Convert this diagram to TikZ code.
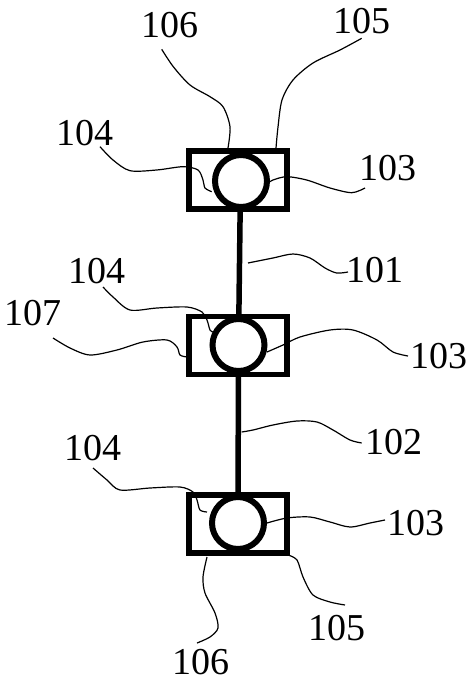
\documentclass[tikz,border=0pt]{standalone}
\usepackage{fontspec}
\setmainfont{Liberation Serif}
\begin{document}
\begin{tikzpicture}[x=1pt,y=-1pt,
  box/.style={draw,line width=5.5pt,minimum width=98pt,minimum height=58pt,inner sep=0pt},
  ring/.style={draw,circle,line width=6pt,minimum size=52pt,inner sep=0pt,fill=white},
  rod/.style={line width=5.5pt},
  leader/.style={line width=1.2pt},
  lbl/.style={inner sep=0pt,font=\fontsize{38}{42}\selectfont}]
\useasboundingbox (0,0) rectangle (474,685);
% boxes
\node[box] (b1) at (238,180) {};
\node[box] (b2) at (238,345.5) {};
\node[box] (b3) at (238,524) {};
% rods
\coordinate (t1) at (240.5,181);
\coordinate (t2) at (238.5,345);
\coordinate (t3) at (238,523);
\draw[rod] (t1) -- (t2) -- (t3);
% rings
\node[ring] (c1) at (241,181) {};
\node[ring] (c2) at (238.5,345) {};
\node[ring] (c3) at (238,523) {};
% labels
\node[lbl] (l106a) at (170,25) {106};
\node[lbl] (l105a) at (362,21) {105};
\node[lbl] (l104a) at (85,133) {104};
\node[lbl] (l103a) at (388,168) {103};
\node[lbl] (l101) at (375,270) {101};
\node[lbl] (l104b) at (97,271) {104};
\node[lbl] (l107) at (33,313) {107};
\node[lbl] (l103b) at (439,356) {103};
\node[lbl] (l102) at (394,442) {102};
\node[lbl] (l104c) at (93,448) {104};
\node[lbl] (l103c) at (416,523) {103};
\node[lbl] (l105b) at (337,628) {105};
\node[lbl] (l106b) at (201,662) {106};
% leaders top
\draw[leader] plot[smooth] coordinates {(161.7,49.3) (173.3,66.7) (190,85) (210,96.7) (223,106.7) (230,126.7) (228,148)};
\draw[leader] plot[smooth] coordinates {(361.7,38.3) (340,50) (313,63) (293,80) (282,100) (278,127) (276,148)};
\draw[leader] plot[smooth] coordinates {(100,146.7) (113,160) (130,170.7) (156.7,170) (183,166.7) (198,170) (203,180) (205,188) (211.7,191.7)};
\draw[leader] plot[smooth] coordinates {(365,188) (351.7,192.7) (330,188) (306.7,180) (286.7,176.7) (273,180) (268,183)};
% leaders middle
\draw[leader] plot[smooth] coordinates {(348,272) (336.7,273) (325,268) (310,258) (293,254) (273,258) (248,263)};
\draw[leader] plot[smooth] coordinates {(103,287) (113,297) (130,310) (157,308) (187,307) (202,312) (207,320) (210,330) (213,332)};
\draw[leader] plot[smooth] coordinates {(53,338) (70,348) (90,355) (117,350) (143,342) (167,340) (177,347) (180,355) (187,357)};
\draw[leader] plot[smooth] coordinates {(408,356) (393,352) (377,340) (353,330) (330,330) (300,337) (283,345) (267,352)};
% leaders bottom
\draw[leader] plot[smooth] coordinates {(361.7,443) (350,440) (333,430) (317,422) (297,421) (273,425) (253,430) (241.7,432)};
\draw[leader] plot[smooth] coordinates {(93,468) (107,480) (120,490) (150,488) (180,487) (193,492) (197,500) (200,510) (207,512)};
\draw[leader] plot[smooth] coordinates {(385,520) (370,523) (350,527) (330,522) (310,517) (287,518) (267,523)};
\draw[leader] plot[smooth] coordinates {(345,605) (330,602) (313,595) (303,577) (297,560) (288,555)};
\draw[leader] plot[smooth] coordinates {(197,643) (210,637) (218,628) (215,613) (205,593) (203,577) (207,557)};
\end{tikzpicture}
\end{document}
